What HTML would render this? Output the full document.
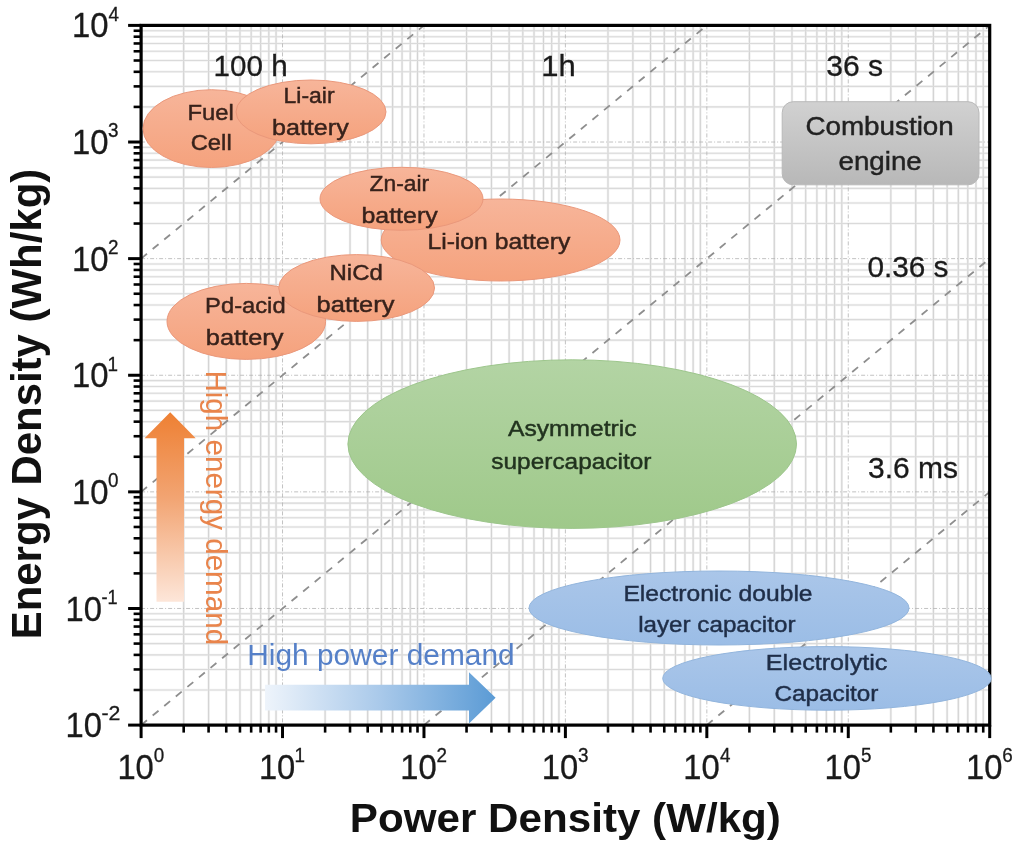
<!DOCTYPE html>
<html lang="en"><head><meta charset="utf-8"><title>Ragone plot</title>
<style>html,body{margin:0;padding:0;background:#fff}body{width:1025px;height:852px;overflow:hidden}svg{display:block}text{font-family:"Liberation Sans", sans-serif}</style>
</head><body>
<svg width="1025" height="852" viewBox="0 0 1025 852">
<defs>
<linearGradient id="gO" x1="0" y1="0" x2="0" y2="1"><stop offset="0" stop-color="#f7b59a"/><stop offset="1" stop-color="#f5a27d"/></linearGradient>
<linearGradient id="gG" x1="0" y1="0" x2="0" y2="1"><stop offset="0" stop-color="#b3d4a4"/><stop offset="1" stop-color="#9fc98a"/></linearGradient>
<linearGradient id="gB" x1="0" y1="0" x2="0" y2="1"><stop offset="0" stop-color="#aac6e9"/><stop offset="1" stop-color="#9bbde6"/></linearGradient>
<linearGradient id="gK" x1="0" y1="0" x2="0" y2="1"><stop offset="0" stop-color="#d1d1d1"/><stop offset="1" stop-color="#b8b8b8"/></linearGradient>
<linearGradient id="aO" x1="0" y1="0" x2="0" y2="1"><stop offset="0" stop-color="#ee8033"/><stop offset="0.45" stop-color="#f2a472"/><stop offset="1" stop-color="#fde6d9"/></linearGradient>
<linearGradient id="aB" x1="0" y1="0" x2="1" y2="0"><stop offset="0" stop-color="#eef4fb"/><stop offset="0.5" stop-color="#a9c9ea"/><stop offset="1" stop-color="#5b9bd5"/></linearGradient>
</defs>
<rect width="1025" height="852" fill="#fff"/>
<g stroke="#f0f0f0" stroke-width="2.5" fill="none">
<line x1="183.68" y1="25.4" x2="183.68" y2="725.1"/>
<line x1="208.58" y1="25.4" x2="208.58" y2="725.1"/>
<line x1="226.25" y1="25.4" x2="226.25" y2="725.1"/>
<line x1="239.96" y1="25.4" x2="239.96" y2="725.1"/>
<line x1="251.16" y1="25.4" x2="251.16" y2="725.1"/>
<line x1="260.63" y1="25.4" x2="260.63" y2="725.1"/>
<line x1="268.83" y1="25.4" x2="268.83" y2="725.1"/>
<line x1="276.06" y1="25.4" x2="276.06" y2="725.1"/>
<line x1="325.11" y1="25.4" x2="325.11" y2="725.1"/>
<line x1="350.01" y1="25.4" x2="350.01" y2="725.1"/>
<line x1="367.68" y1="25.4" x2="367.68" y2="725.1"/>
<line x1="381.39" y1="25.4" x2="381.39" y2="725.1"/>
<line x1="392.59" y1="25.4" x2="392.59" y2="725.1"/>
<line x1="402.06" y1="25.4" x2="402.06" y2="725.1"/>
<line x1="410.26" y1="25.4" x2="410.26" y2="725.1"/>
<line x1="417.50" y1="25.4" x2="417.50" y2="725.1"/>
<line x1="466.54" y1="25.4" x2="466.54" y2="725.1"/>
<line x1="491.45" y1="25.4" x2="491.45" y2="725.1"/>
<line x1="509.12" y1="25.4" x2="509.12" y2="725.1"/>
<line x1="522.82" y1="25.4" x2="522.82" y2="725.1"/>
<line x1="534.02" y1="25.4" x2="534.02" y2="725.1"/>
<line x1="543.49" y1="25.4" x2="543.49" y2="725.1"/>
<line x1="551.69" y1="25.4" x2="551.69" y2="725.1"/>
<line x1="558.93" y1="25.4" x2="558.93" y2="725.1"/>
<line x1="607.98" y1="25.4" x2="607.98" y2="725.1"/>
<line x1="632.88" y1="25.4" x2="632.88" y2="725.1"/>
<line x1="650.55" y1="25.4" x2="650.55" y2="725.1"/>
<line x1="664.26" y1="25.4" x2="664.26" y2="725.1"/>
<line x1="675.46" y1="25.4" x2="675.46" y2="725.1"/>
<line x1="684.93" y1="25.4" x2="684.93" y2="725.1"/>
<line x1="693.13" y1="25.4" x2="693.13" y2="725.1"/>
<line x1="700.36" y1="25.4" x2="700.36" y2="725.1"/>
<line x1="749.41" y1="25.4" x2="749.41" y2="725.1"/>
<line x1="774.31" y1="25.4" x2="774.31" y2="725.1"/>
<line x1="791.98" y1="25.4" x2="791.98" y2="725.1"/>
<line x1="805.69" y1="25.4" x2="805.69" y2="725.1"/>
<line x1="816.89" y1="25.4" x2="816.89" y2="725.1"/>
<line x1="826.36" y1="25.4" x2="826.36" y2="725.1"/>
<line x1="834.56" y1="25.4" x2="834.56" y2="725.1"/>
<line x1="841.80" y1="25.4" x2="841.80" y2="725.1"/>
<line x1="890.84" y1="25.4" x2="890.84" y2="725.1"/>
<line x1="915.75" y1="25.4" x2="915.75" y2="725.1"/>
<line x1="933.42" y1="25.4" x2="933.42" y2="725.1"/>
<line x1="947.12" y1="25.4" x2="947.12" y2="725.1"/>
<line x1="958.32" y1="25.4" x2="958.32" y2="725.1"/>
<line x1="967.79" y1="25.4" x2="967.79" y2="725.1"/>
<line x1="975.99" y1="25.4" x2="975.99" y2="725.1"/>
<line x1="983.23" y1="25.4" x2="983.23" y2="725.1"/>
<g stroke="#f3f3f3">
<line x1="141.1" y1="689.99" x2="989.7" y2="689.99"/>
<line x1="141.1" y1="669.46" x2="989.7" y2="669.46"/>
<line x1="141.1" y1="654.89" x2="989.7" y2="654.89"/>
<line x1="141.1" y1="643.59" x2="989.7" y2="643.59"/>
<line x1="141.1" y1="634.35" x2="989.7" y2="634.35"/>
<line x1="141.1" y1="626.55" x2="989.7" y2="626.55"/>
<line x1="141.1" y1="619.78" x2="989.7" y2="619.78"/>
<line x1="141.1" y1="613.82" x2="989.7" y2="613.82"/>
<line x1="141.1" y1="573.38" x2="989.7" y2="573.38"/>
<line x1="141.1" y1="552.84" x2="989.7" y2="552.84"/>
<line x1="141.1" y1="538.27" x2="989.7" y2="538.27"/>
<line x1="141.1" y1="526.97" x2="989.7" y2="526.97"/>
<line x1="141.1" y1="517.74" x2="989.7" y2="517.74"/>
<line x1="141.1" y1="509.93" x2="989.7" y2="509.93"/>
<line x1="141.1" y1="503.17" x2="989.7" y2="503.17"/>
<line x1="141.1" y1="497.20" x2="989.7" y2="497.20"/>
<line x1="141.1" y1="456.76" x2="989.7" y2="456.76"/>
<line x1="141.1" y1="436.23" x2="989.7" y2="436.23"/>
<line x1="141.1" y1="421.66" x2="989.7" y2="421.66"/>
<line x1="141.1" y1="410.36" x2="989.7" y2="410.36"/>
<line x1="141.1" y1="401.12" x2="989.7" y2="401.12"/>
<line x1="141.1" y1="393.31" x2="989.7" y2="393.31"/>
<line x1="141.1" y1="386.55" x2="989.7" y2="386.55"/>
<line x1="141.1" y1="380.59" x2="989.7" y2="380.59"/>
<line x1="141.1" y1="340.14" x2="989.7" y2="340.14"/>
<line x1="141.1" y1="319.61" x2="989.7" y2="319.61"/>
<line x1="141.1" y1="305.04" x2="989.7" y2="305.04"/>
<line x1="141.1" y1="293.74" x2="989.7" y2="293.74"/>
<line x1="141.1" y1="284.50" x2="989.7" y2="284.50"/>
<line x1="141.1" y1="276.70" x2="989.7" y2="276.70"/>
<line x1="141.1" y1="269.93" x2="989.7" y2="269.93"/>
<line x1="141.1" y1="263.97" x2="989.7" y2="263.97"/>
<line x1="141.1" y1="223.53" x2="989.7" y2="223.53"/>
<line x1="141.1" y1="202.99" x2="989.7" y2="202.99"/>
<line x1="141.1" y1="188.42" x2="989.7" y2="188.42"/>
<line x1="141.1" y1="177.12" x2="989.7" y2="177.12"/>
<line x1="141.1" y1="167.89" x2="989.7" y2="167.89"/>
<line x1="141.1" y1="160.08" x2="989.7" y2="160.08"/>
<line x1="141.1" y1="153.32" x2="989.7" y2="153.32"/>
<line x1="141.1" y1="147.35" x2="989.7" y2="147.35"/>
<line x1="141.1" y1="106.91" x2="989.7" y2="106.91"/>
<line x1="141.1" y1="86.38" x2="989.7" y2="86.38"/>
<line x1="141.1" y1="71.81" x2="989.7" y2="71.81"/>
<line x1="141.1" y1="60.51" x2="989.7" y2="60.51"/>
<line x1="141.1" y1="51.27" x2="989.7" y2="51.27"/>
<line x1="141.1" y1="43.46" x2="989.7" y2="43.46"/>
<line x1="141.1" y1="36.70" x2="989.7" y2="36.70"/>
<line x1="141.1" y1="30.74" x2="989.7" y2="30.74"/>
</g>
</g>
<g stroke="#d3d3d3" stroke-width="1.1" fill="none">
<line x1="183.68" y1="25.4" x2="183.68" y2="725.1"/>
<line x1="208.58" y1="25.4" x2="208.58" y2="725.1"/>
<line x1="226.25" y1="25.4" x2="226.25" y2="725.1"/>
<line x1="239.96" y1="25.4" x2="239.96" y2="725.1"/>
<line x1="251.16" y1="25.4" x2="251.16" y2="725.1"/>
<line x1="260.63" y1="25.4" x2="260.63" y2="725.1"/>
<line x1="268.83" y1="25.4" x2="268.83" y2="725.1"/>
<line x1="276.06" y1="25.4" x2="276.06" y2="725.1"/>
<line x1="325.11" y1="25.4" x2="325.11" y2="725.1"/>
<line x1="350.01" y1="25.4" x2="350.01" y2="725.1"/>
<line x1="367.68" y1="25.4" x2="367.68" y2="725.1"/>
<line x1="381.39" y1="25.4" x2="381.39" y2="725.1"/>
<line x1="392.59" y1="25.4" x2="392.59" y2="725.1"/>
<line x1="402.06" y1="25.4" x2="402.06" y2="725.1"/>
<line x1="410.26" y1="25.4" x2="410.26" y2="725.1"/>
<line x1="417.50" y1="25.4" x2="417.50" y2="725.1"/>
<line x1="466.54" y1="25.4" x2="466.54" y2="725.1"/>
<line x1="491.45" y1="25.4" x2="491.45" y2="725.1"/>
<line x1="509.12" y1="25.4" x2="509.12" y2="725.1"/>
<line x1="522.82" y1="25.4" x2="522.82" y2="725.1"/>
<line x1="534.02" y1="25.4" x2="534.02" y2="725.1"/>
<line x1="543.49" y1="25.4" x2="543.49" y2="725.1"/>
<line x1="551.69" y1="25.4" x2="551.69" y2="725.1"/>
<line x1="558.93" y1="25.4" x2="558.93" y2="725.1"/>
<line x1="607.98" y1="25.4" x2="607.98" y2="725.1"/>
<line x1="632.88" y1="25.4" x2="632.88" y2="725.1"/>
<line x1="650.55" y1="25.4" x2="650.55" y2="725.1"/>
<line x1="664.26" y1="25.4" x2="664.26" y2="725.1"/>
<line x1="675.46" y1="25.4" x2="675.46" y2="725.1"/>
<line x1="684.93" y1="25.4" x2="684.93" y2="725.1"/>
<line x1="693.13" y1="25.4" x2="693.13" y2="725.1"/>
<line x1="700.36" y1="25.4" x2="700.36" y2="725.1"/>
<line x1="749.41" y1="25.4" x2="749.41" y2="725.1"/>
<line x1="774.31" y1="25.4" x2="774.31" y2="725.1"/>
<line x1="791.98" y1="25.4" x2="791.98" y2="725.1"/>
<line x1="805.69" y1="25.4" x2="805.69" y2="725.1"/>
<line x1="816.89" y1="25.4" x2="816.89" y2="725.1"/>
<line x1="826.36" y1="25.4" x2="826.36" y2="725.1"/>
<line x1="834.56" y1="25.4" x2="834.56" y2="725.1"/>
<line x1="841.80" y1="25.4" x2="841.80" y2="725.1"/>
<line x1="890.84" y1="25.4" x2="890.84" y2="725.1"/>
<line x1="915.75" y1="25.4" x2="915.75" y2="725.1"/>
<line x1="933.42" y1="25.4" x2="933.42" y2="725.1"/>
<line x1="947.12" y1="25.4" x2="947.12" y2="725.1"/>
<line x1="958.32" y1="25.4" x2="958.32" y2="725.1"/>
<line x1="967.79" y1="25.4" x2="967.79" y2="725.1"/>
<line x1="975.99" y1="25.4" x2="975.99" y2="725.1"/>
<line x1="983.23" y1="25.4" x2="983.23" y2="725.1"/>
<g stroke="#dadada">
<line x1="141.1" y1="689.99" x2="989.7" y2="689.99"/>
<line x1="141.1" y1="669.46" x2="989.7" y2="669.46"/>
<line x1="141.1" y1="654.89" x2="989.7" y2="654.89"/>
<line x1="141.1" y1="643.59" x2="989.7" y2="643.59"/>
<line x1="141.1" y1="634.35" x2="989.7" y2="634.35"/>
<line x1="141.1" y1="626.55" x2="989.7" y2="626.55"/>
<line x1="141.1" y1="619.78" x2="989.7" y2="619.78"/>
<line x1="141.1" y1="613.82" x2="989.7" y2="613.82"/>
<line x1="141.1" y1="573.38" x2="989.7" y2="573.38"/>
<line x1="141.1" y1="552.84" x2="989.7" y2="552.84"/>
<line x1="141.1" y1="538.27" x2="989.7" y2="538.27"/>
<line x1="141.1" y1="526.97" x2="989.7" y2="526.97"/>
<line x1="141.1" y1="517.74" x2="989.7" y2="517.74"/>
<line x1="141.1" y1="509.93" x2="989.7" y2="509.93"/>
<line x1="141.1" y1="503.17" x2="989.7" y2="503.17"/>
<line x1="141.1" y1="497.20" x2="989.7" y2="497.20"/>
<line x1="141.1" y1="456.76" x2="989.7" y2="456.76"/>
<line x1="141.1" y1="436.23" x2="989.7" y2="436.23"/>
<line x1="141.1" y1="421.66" x2="989.7" y2="421.66"/>
<line x1="141.1" y1="410.36" x2="989.7" y2="410.36"/>
<line x1="141.1" y1="401.12" x2="989.7" y2="401.12"/>
<line x1="141.1" y1="393.31" x2="989.7" y2="393.31"/>
<line x1="141.1" y1="386.55" x2="989.7" y2="386.55"/>
<line x1="141.1" y1="380.59" x2="989.7" y2="380.59"/>
<line x1="141.1" y1="340.14" x2="989.7" y2="340.14"/>
<line x1="141.1" y1="319.61" x2="989.7" y2="319.61"/>
<line x1="141.1" y1="305.04" x2="989.7" y2="305.04"/>
<line x1="141.1" y1="293.74" x2="989.7" y2="293.74"/>
<line x1="141.1" y1="284.50" x2="989.7" y2="284.50"/>
<line x1="141.1" y1="276.70" x2="989.7" y2="276.70"/>
<line x1="141.1" y1="269.93" x2="989.7" y2="269.93"/>
<line x1="141.1" y1="263.97" x2="989.7" y2="263.97"/>
<line x1="141.1" y1="223.53" x2="989.7" y2="223.53"/>
<line x1="141.1" y1="202.99" x2="989.7" y2="202.99"/>
<line x1="141.1" y1="188.42" x2="989.7" y2="188.42"/>
<line x1="141.1" y1="177.12" x2="989.7" y2="177.12"/>
<line x1="141.1" y1="167.89" x2="989.7" y2="167.89"/>
<line x1="141.1" y1="160.08" x2="989.7" y2="160.08"/>
<line x1="141.1" y1="153.32" x2="989.7" y2="153.32"/>
<line x1="141.1" y1="147.35" x2="989.7" y2="147.35"/>
<line x1="141.1" y1="106.91" x2="989.7" y2="106.91"/>
<line x1="141.1" y1="86.38" x2="989.7" y2="86.38"/>
<line x1="141.1" y1="71.81" x2="989.7" y2="71.81"/>
<line x1="141.1" y1="60.51" x2="989.7" y2="60.51"/>
<line x1="141.1" y1="51.27" x2="989.7" y2="51.27"/>
<line x1="141.1" y1="43.46" x2="989.7" y2="43.46"/>
<line x1="141.1" y1="36.70" x2="989.7" y2="36.70"/>
<line x1="141.1" y1="30.74" x2="989.7" y2="30.74"/>
</g>
</g>
<g stroke="#b2b2b2" stroke-width="0.8" stroke-dasharray="4 2 1 2" fill="none">
<line x1="282.53" y1="25.4" x2="282.53" y2="725.1"/>
<line x1="423.97" y1="25.4" x2="423.97" y2="725.1"/>
<line x1="565.40" y1="25.4" x2="565.40" y2="725.1"/>
<line x1="706.83" y1="25.4" x2="706.83" y2="725.1"/>
<line x1="848.27" y1="25.4" x2="848.27" y2="725.1"/>
<line x1="141.1" y1="608.48" x2="989.7" y2="608.48"/>
<line x1="141.1" y1="491.87" x2="989.7" y2="491.87"/>
<line x1="141.1" y1="375.25" x2="989.7" y2="375.25"/>
<line x1="141.1" y1="258.63" x2="989.7" y2="258.63"/>
<line x1="141.1" y1="142.02" x2="989.7" y2="142.02"/>
</g>
<g stroke="#8e8e8e" stroke-width="1.8" stroke-dasharray="7.6 7.4" fill="none">
<line x1="141.1" y1="258.6" x2="424.0" y2="25.4"/>
<line x1="141.1" y1="491.9" x2="706.8" y2="25.4"/>
<line x1="141.1" y1="725.1" x2="989.7" y2="25.4"/>
<line x1="424.0" y1="725.1" x2="989.7" y2="258.6"/>
<line x1="706.8" y1="725.1" x2="989.7" y2="491.9"/>
</g>
<rect x="141.1" y="25.4" width="848.6" height="699.7" fill="none" stroke="#000" stroke-width="3.2"/>
<g stroke="#000" fill="none">
<line x1="141.10" y1="725.1" x2="141.10" y2="738.1" stroke-width="3"/>
<line x1="183.68" y1="725.1" x2="183.68" y2="732.6" stroke-width="2.6"/>
<line x1="208.58" y1="725.1" x2="208.58" y2="732.6" stroke-width="2.6"/>
<line x1="226.25" y1="725.1" x2="226.25" y2="732.6" stroke-width="2.6"/>
<line x1="239.96" y1="725.1" x2="239.96" y2="732.6" stroke-width="2.6"/>
<line x1="251.16" y1="725.1" x2="251.16" y2="732.6" stroke-width="2.6"/>
<line x1="260.63" y1="725.1" x2="260.63" y2="732.6" stroke-width="2.6"/>
<line x1="268.83" y1="725.1" x2="268.83" y2="732.6" stroke-width="2.6"/>
<line x1="276.06" y1="725.1" x2="276.06" y2="732.6" stroke-width="2.6"/>
<line x1="282.53" y1="725.1" x2="282.53" y2="738.1" stroke-width="3"/>
<line x1="325.11" y1="725.1" x2="325.11" y2="732.6" stroke-width="2.6"/>
<line x1="350.01" y1="725.1" x2="350.01" y2="732.6" stroke-width="2.6"/>
<line x1="367.68" y1="725.1" x2="367.68" y2="732.6" stroke-width="2.6"/>
<line x1="381.39" y1="725.1" x2="381.39" y2="732.6" stroke-width="2.6"/>
<line x1="392.59" y1="725.1" x2="392.59" y2="732.6" stroke-width="2.6"/>
<line x1="402.06" y1="725.1" x2="402.06" y2="732.6" stroke-width="2.6"/>
<line x1="410.26" y1="725.1" x2="410.26" y2="732.6" stroke-width="2.6"/>
<line x1="417.50" y1="725.1" x2="417.50" y2="732.6" stroke-width="2.6"/>
<line x1="423.97" y1="725.1" x2="423.97" y2="738.1" stroke-width="3"/>
<line x1="466.54" y1="725.1" x2="466.54" y2="732.6" stroke-width="2.6"/>
<line x1="491.45" y1="725.1" x2="491.45" y2="732.6" stroke-width="2.6"/>
<line x1="509.12" y1="725.1" x2="509.12" y2="732.6" stroke-width="2.6"/>
<line x1="522.82" y1="725.1" x2="522.82" y2="732.6" stroke-width="2.6"/>
<line x1="534.02" y1="725.1" x2="534.02" y2="732.6" stroke-width="2.6"/>
<line x1="543.49" y1="725.1" x2="543.49" y2="732.6" stroke-width="2.6"/>
<line x1="551.69" y1="725.1" x2="551.69" y2="732.6" stroke-width="2.6"/>
<line x1="558.93" y1="725.1" x2="558.93" y2="732.6" stroke-width="2.6"/>
<line x1="565.40" y1="725.1" x2="565.40" y2="738.1" stroke-width="3"/>
<line x1="607.98" y1="725.1" x2="607.98" y2="732.6" stroke-width="2.6"/>
<line x1="632.88" y1="725.1" x2="632.88" y2="732.6" stroke-width="2.6"/>
<line x1="650.55" y1="725.1" x2="650.55" y2="732.6" stroke-width="2.6"/>
<line x1="664.26" y1="725.1" x2="664.26" y2="732.6" stroke-width="2.6"/>
<line x1="675.46" y1="725.1" x2="675.46" y2="732.6" stroke-width="2.6"/>
<line x1="684.93" y1="725.1" x2="684.93" y2="732.6" stroke-width="2.6"/>
<line x1="693.13" y1="725.1" x2="693.13" y2="732.6" stroke-width="2.6"/>
<line x1="700.36" y1="725.1" x2="700.36" y2="732.6" stroke-width="2.6"/>
<line x1="706.83" y1="725.1" x2="706.83" y2="738.1" stroke-width="3"/>
<line x1="749.41" y1="725.1" x2="749.41" y2="732.6" stroke-width="2.6"/>
<line x1="774.31" y1="725.1" x2="774.31" y2="732.6" stroke-width="2.6"/>
<line x1="791.98" y1="725.1" x2="791.98" y2="732.6" stroke-width="2.6"/>
<line x1="805.69" y1="725.1" x2="805.69" y2="732.6" stroke-width="2.6"/>
<line x1="816.89" y1="725.1" x2="816.89" y2="732.6" stroke-width="2.6"/>
<line x1="826.36" y1="725.1" x2="826.36" y2="732.6" stroke-width="2.6"/>
<line x1="834.56" y1="725.1" x2="834.56" y2="732.6" stroke-width="2.6"/>
<line x1="841.80" y1="725.1" x2="841.80" y2="732.6" stroke-width="2.6"/>
<line x1="848.27" y1="725.1" x2="848.27" y2="738.1" stroke-width="3"/>
<line x1="890.84" y1="725.1" x2="890.84" y2="732.6" stroke-width="2.6"/>
<line x1="915.75" y1="725.1" x2="915.75" y2="732.6" stroke-width="2.6"/>
<line x1="933.42" y1="725.1" x2="933.42" y2="732.6" stroke-width="2.6"/>
<line x1="947.12" y1="725.1" x2="947.12" y2="732.6" stroke-width="2.6"/>
<line x1="958.32" y1="725.1" x2="958.32" y2="732.6" stroke-width="2.6"/>
<line x1="967.79" y1="725.1" x2="967.79" y2="732.6" stroke-width="2.6"/>
<line x1="975.99" y1="725.1" x2="975.99" y2="732.6" stroke-width="2.6"/>
<line x1="983.23" y1="725.1" x2="983.23" y2="732.6" stroke-width="2.6"/>
<line x1="989.70" y1="725.1" x2="989.70" y2="738.1" stroke-width="3"/>
<line x1="128.1" y1="725.10" x2="141.1" y2="725.10" stroke-width="3"/>
<line x1="133.6" y1="689.99" x2="141.1" y2="689.99" stroke-width="2.6"/>
<line x1="133.6" y1="669.46" x2="141.1" y2="669.46" stroke-width="2.6"/>
<line x1="133.6" y1="654.89" x2="141.1" y2="654.89" stroke-width="2.6"/>
<line x1="133.6" y1="643.59" x2="141.1" y2="643.59" stroke-width="2.6"/>
<line x1="133.6" y1="634.35" x2="141.1" y2="634.35" stroke-width="2.6"/>
<line x1="133.6" y1="626.55" x2="141.1" y2="626.55" stroke-width="2.6"/>
<line x1="133.6" y1="619.78" x2="141.1" y2="619.78" stroke-width="2.6"/>
<line x1="133.6" y1="613.82" x2="141.1" y2="613.82" stroke-width="2.6"/>
<line x1="128.1" y1="608.48" x2="141.1" y2="608.48" stroke-width="3"/>
<line x1="133.6" y1="573.38" x2="141.1" y2="573.38" stroke-width="2.6"/>
<line x1="133.6" y1="552.84" x2="141.1" y2="552.84" stroke-width="2.6"/>
<line x1="133.6" y1="538.27" x2="141.1" y2="538.27" stroke-width="2.6"/>
<line x1="133.6" y1="526.97" x2="141.1" y2="526.97" stroke-width="2.6"/>
<line x1="133.6" y1="517.74" x2="141.1" y2="517.74" stroke-width="2.6"/>
<line x1="133.6" y1="509.93" x2="141.1" y2="509.93" stroke-width="2.6"/>
<line x1="133.6" y1="503.17" x2="141.1" y2="503.17" stroke-width="2.6"/>
<line x1="133.6" y1="497.20" x2="141.1" y2="497.20" stroke-width="2.6"/>
<line x1="128.1" y1="491.87" x2="141.1" y2="491.87" stroke-width="3"/>
<line x1="133.6" y1="456.76" x2="141.1" y2="456.76" stroke-width="2.6"/>
<line x1="133.6" y1="436.23" x2="141.1" y2="436.23" stroke-width="2.6"/>
<line x1="133.6" y1="421.66" x2="141.1" y2="421.66" stroke-width="2.6"/>
<line x1="133.6" y1="410.36" x2="141.1" y2="410.36" stroke-width="2.6"/>
<line x1="133.6" y1="401.12" x2="141.1" y2="401.12" stroke-width="2.6"/>
<line x1="133.6" y1="393.31" x2="141.1" y2="393.31" stroke-width="2.6"/>
<line x1="133.6" y1="386.55" x2="141.1" y2="386.55" stroke-width="2.6"/>
<line x1="133.6" y1="380.59" x2="141.1" y2="380.59" stroke-width="2.6"/>
<line x1="128.1" y1="375.25" x2="141.1" y2="375.25" stroke-width="3"/>
<line x1="133.6" y1="340.14" x2="141.1" y2="340.14" stroke-width="2.6"/>
<line x1="133.6" y1="319.61" x2="141.1" y2="319.61" stroke-width="2.6"/>
<line x1="133.6" y1="305.04" x2="141.1" y2="305.04" stroke-width="2.6"/>
<line x1="133.6" y1="293.74" x2="141.1" y2="293.74" stroke-width="2.6"/>
<line x1="133.6" y1="284.50" x2="141.1" y2="284.50" stroke-width="2.6"/>
<line x1="133.6" y1="276.70" x2="141.1" y2="276.70" stroke-width="2.6"/>
<line x1="133.6" y1="269.93" x2="141.1" y2="269.93" stroke-width="2.6"/>
<line x1="133.6" y1="263.97" x2="141.1" y2="263.97" stroke-width="2.6"/>
<line x1="128.1" y1="258.63" x2="141.1" y2="258.63" stroke-width="3"/>
<line x1="133.6" y1="223.53" x2="141.1" y2="223.53" stroke-width="2.6"/>
<line x1="133.6" y1="202.99" x2="141.1" y2="202.99" stroke-width="2.6"/>
<line x1="133.6" y1="188.42" x2="141.1" y2="188.42" stroke-width="2.6"/>
<line x1="133.6" y1="177.12" x2="141.1" y2="177.12" stroke-width="2.6"/>
<line x1="133.6" y1="167.89" x2="141.1" y2="167.89" stroke-width="2.6"/>
<line x1="133.6" y1="160.08" x2="141.1" y2="160.08" stroke-width="2.6"/>
<line x1="133.6" y1="153.32" x2="141.1" y2="153.32" stroke-width="2.6"/>
<line x1="133.6" y1="147.35" x2="141.1" y2="147.35" stroke-width="2.6"/>
<line x1="128.1" y1="142.02" x2="141.1" y2="142.02" stroke-width="3"/>
<line x1="133.6" y1="106.91" x2="141.1" y2="106.91" stroke-width="2.6"/>
<line x1="133.6" y1="86.38" x2="141.1" y2="86.38" stroke-width="2.6"/>
<line x1="133.6" y1="71.81" x2="141.1" y2="71.81" stroke-width="2.6"/>
<line x1="133.6" y1="60.51" x2="141.1" y2="60.51" stroke-width="2.6"/>
<line x1="133.6" y1="51.27" x2="141.1" y2="51.27" stroke-width="2.6"/>
<line x1="133.6" y1="43.46" x2="141.1" y2="43.46" stroke-width="2.6"/>
<line x1="133.6" y1="36.70" x2="141.1" y2="36.70" stroke-width="2.6"/>
<line x1="133.6" y1="30.74" x2="141.1" y2="30.74" stroke-width="2.6"/>
<line x1="128.1" y1="25.40" x2="141.1" y2="25.40" stroke-width="3"/>
</g>
<g fill="#1a1a1a" stroke="#1a1a1a" stroke-width="0.3">
<text x="117.4" y="778.6" font-size="34.5" textLength="36.4" lengthAdjust="spacingAndGlyphs">10</text>
<text x="153.7" y="762.0" font-size="19.5" textLength="10.5" lengthAdjust="spacingAndGlyphs">0</text>
<text x="258.9" y="778.6" font-size="34.5" textLength="36.4" lengthAdjust="spacingAndGlyphs">10</text>
<text x="294.5" y="762.0" font-size="19.5" textLength="10.5" lengthAdjust="spacingAndGlyphs">1</text>
<text x="400.3" y="778.6" font-size="34.5" textLength="36.4" lengthAdjust="spacingAndGlyphs">10</text>
<text x="436.4" y="762.0" font-size="19.5" textLength="10.5" lengthAdjust="spacingAndGlyphs">2</text>
<text x="541.7" y="778.6" font-size="34.5" textLength="36.4" lengthAdjust="spacingAndGlyphs">10</text>
<text x="578.0" y="762.0" font-size="19.5" textLength="10.5" lengthAdjust="spacingAndGlyphs">3</text>
<text x="683.2" y="778.6" font-size="34.5" textLength="36.4" lengthAdjust="spacingAndGlyphs">10</text>
<text x="719.9" y="762.0" font-size="19.5" textLength="10.5" lengthAdjust="spacingAndGlyphs">4</text>
<text x="824.6" y="778.6" font-size="34.5" textLength="36.4" lengthAdjust="spacingAndGlyphs">10</text>
<text x="860.9" y="762.0" font-size="19.5" textLength="10.5" lengthAdjust="spacingAndGlyphs">5</text>
<text x="966.0" y="778.6" font-size="34.5" textLength="36.4" lengthAdjust="spacingAndGlyphs">10</text>
<text x="1002.2" y="762.0" font-size="19.5" textLength="10.5" lengthAdjust="spacingAndGlyphs">6</text>
<text x="65.6" y="737.1" font-size="34.5" textLength="36.4" lengthAdjust="spacingAndGlyphs">10</text>
<text x="101.4" y="720.4" font-size="19.5" textLength="18.9" lengthAdjust="spacingAndGlyphs">-2</text>
<text x="65.6" y="620.5" font-size="34.5" textLength="36.4" lengthAdjust="spacingAndGlyphs">10</text>
<text x="101.6" y="603.8" font-size="19.5" textLength="16.1" lengthAdjust="spacingAndGlyphs">-1</text>
<text x="72.1" y="503.9" font-size="34.5" textLength="36.5" lengthAdjust="spacingAndGlyphs">10</text>
<text x="108.1" y="487.2" font-size="19.5" textLength="10.5" lengthAdjust="spacingAndGlyphs">0</text>
<text x="72.1" y="387.2" font-size="34.5" textLength="36.5" lengthAdjust="spacingAndGlyphs">10</text>
<text x="107.5" y="370.5" font-size="19.5" textLength="10.5" lengthAdjust="spacingAndGlyphs">1</text>
<text x="72.1" y="270.6" font-size="34.5" textLength="36.5" lengthAdjust="spacingAndGlyphs">10</text>
<text x="108.0" y="253.9" font-size="19.5" textLength="10.5" lengthAdjust="spacingAndGlyphs">2</text>
<text x="72.1" y="154.0" font-size="34.5" textLength="36.5" lengthAdjust="spacingAndGlyphs">10</text>
<text x="108.1" y="137.3" font-size="19.5" textLength="10.5" lengthAdjust="spacingAndGlyphs">3</text>
<text x="72.1" y="37.4" font-size="34.5" textLength="36.5" lengthAdjust="spacingAndGlyphs">10</text>
<text x="108.5" y="20.7" font-size="19.5" textLength="10.5" lengthAdjust="spacingAndGlyphs">4</text>
</g>
<ellipse cx="211.5" cy="128.6" rx="68.5" ry="38.9" fill="url(#gO)" stroke="#ea987b" stroke-width="1"/>
<ellipse cx="311.0" cy="111.9" rx="75.0" ry="31.9" fill="url(#gO)" stroke="#ea987b" stroke-width="1"/>
<ellipse cx="500.6" cy="240.0" rx="119.4" ry="41.0" fill="url(#gO)" stroke="#ea987b" stroke-width="1"/>
<ellipse cx="401.5" cy="198.8" rx="81.5" ry="31.5" fill="url(#gO)" stroke="#ea987b" stroke-width="1"/>
<ellipse cx="246.3" cy="321.4" rx="79.3" ry="38.0" fill="url(#gO)" stroke="#ea987b" stroke-width="1"/>
<ellipse cx="356.6" cy="288.0" rx="77.9" ry="33.4" fill="url(#gO)" stroke="#ea987b" stroke-width="1"/>
<ellipse cx="572.2" cy="444.1" rx="224.3" ry="84.3" fill="url(#gG)" stroke="#9dc68c" stroke-width="1"/>
<ellipse cx="719.0" cy="608.0" rx="190.0" ry="37.0" fill="url(#gB)" stroke="#92b5dd" stroke-width="1"/>
<ellipse cx="827.0" cy="678.4" rx="164.3" ry="31.8" fill="url(#gB)" stroke="#92b5dd" stroke-width="1"/>
<rect x="782.2" y="101.7" width="196.8" height="83.1" rx="11" ry="11" fill="url(#gK)" stroke="#b9b9b9" stroke-width="1"/>
<g fill="#38221b" stroke="#38221b" stroke-width="0.45">
<text x="187.4" y="120.0" font-size="22.5" textLength="46.4" lengthAdjust="spacingAndGlyphs">Fuel</text>
<text x="190.7" y="150.3" font-size="22.5" textLength="41.0" lengthAdjust="spacingAndGlyphs">Cell</text>
<text x="283.6" y="102.9" font-size="22.5" textLength="51.0" lengthAdjust="spacingAndGlyphs">Li-air</text>
<text x="272.0" y="134.5" font-size="22.5" textLength="76.7" lengthAdjust="spacingAndGlyphs">battery</text>
<text x="369.6" y="190.5" font-size="22.5" textLength="59.5" lengthAdjust="spacingAndGlyphs">Zn-air</text>
<text x="361.4" y="223.0" font-size="22.5" textLength="76.3" lengthAdjust="spacingAndGlyphs">battery</text>
<text x="427.4" y="248.9" font-size="22.5" textLength="142.9" lengthAdjust="spacingAndGlyphs">Li-ion battery</text>
<text x="329.5" y="279.5" font-size="22.5" textLength="53.3" lengthAdjust="spacingAndGlyphs">NiCd</text>
<text x="316.6" y="311.7" font-size="22.5" textLength="77.8" lengthAdjust="spacingAndGlyphs">battery</text>
<text x="205.1" y="312.6" font-size="22.5" textLength="80.5" lengthAdjust="spacingAndGlyphs">Pd-acid</text>
<text x="205.8" y="344.8" font-size="22.5" textLength="77.7" lengthAdjust="spacingAndGlyphs">battery</text>
</g>
<g fill="#22331f" stroke="#22331f" stroke-width="0.45">
<text x="508.0" y="436.0" font-size="22.5" textLength="128.5" lengthAdjust="spacingAndGlyphs">Asymmetric</text>
<text x="491.3" y="469.0" font-size="22.5" textLength="160.2" lengthAdjust="spacingAndGlyphs">supercapacitor</text>
</g>
<g fill="#1f2e48" stroke="#1f2e48" stroke-width="0.45">
<text x="623.4" y="601.0" font-size="22.5" textLength="189.2" lengthAdjust="spacingAndGlyphs">Electronic double</text>
<text x="638.2" y="632.2" font-size="22.5" textLength="157.3" lengthAdjust="spacingAndGlyphs">layer capacitor</text>
<text x="765.8" y="670.0" font-size="22.5" textLength="121.6" lengthAdjust="spacingAndGlyphs">Electrolytic</text>
<text x="774.4" y="701.3" font-size="22.5" textLength="104.0" lengthAdjust="spacingAndGlyphs">Capacitor</text>
</g>
<g fill="#222" stroke="#222" stroke-width="0.45">
<text x="805.4" y="134.5" font-size="26.5" textLength="148.4" lengthAdjust="spacingAndGlyphs">Combustion</text>
<text x="838.5" y="169.6" font-size="26.5" textLength="83.2" lengthAdjust="spacingAndGlyphs">engine</text>
</g>
<g fill="#1a1a1a" stroke="#1a1a1a" stroke-width="0.3">
<text x="213.6" y="76.0" font-size="29" textLength="74.1" lengthAdjust="spacingAndGlyphs">100 h</text>
<text x="541.3" y="76.0" font-size="29" textLength="34.5" lengthAdjust="spacingAndGlyphs">1h</text>
<text x="826.2" y="75.8" font-size="29" textLength="56.8" lengthAdjust="spacingAndGlyphs">36 s</text>
<text x="867.4" y="277.2" font-size="29" textLength="81.1" lengthAdjust="spacingAndGlyphs">0.36 s</text>
<text x="868.1" y="477.5" font-size="29" textLength="90.0" lengthAdjust="spacingAndGlyphs">3.6 ms</text>
</g>
<path d="M170.2 412.3 L195.7 438.2 L184 438.2 L184 601.8 L156.5 601.8 L156.5 438.2 L144.6 438.2 Z" fill="url(#aO)"/>
<path d="M265 684.8 L469 684.8 L469 672.2 L495.6 697.7 L469 723.6 L469 710.4 L265 710.4 Z" fill="url(#aB)"/>
<text transform="translate(205.6,370.4) rotate(90)" font-size="29.6" fill="#e9844b">High energy demand</text>
<text x="247.2" y="665.1" font-size="29.5" textLength="267.5" lengthAdjust="spacingAndGlyphs" fill="#5580c8">High power demand</text>
<text x="349.8" y="831.5" font-size="41.5" textLength="431.1" lengthAdjust="spacingAndGlyphs" font-weight="bold" fill="#111">Power Density (W/kg)</text>
<g transform="translate(41.3,636.6) rotate(-90)">
<text x="-2.7" y="0.0" font-size="42" textLength="470.5" lengthAdjust="spacingAndGlyphs" font-weight="bold" fill="#111">Energy Density (Wh/kg)</text>
</g>
</svg>
</body></html>
